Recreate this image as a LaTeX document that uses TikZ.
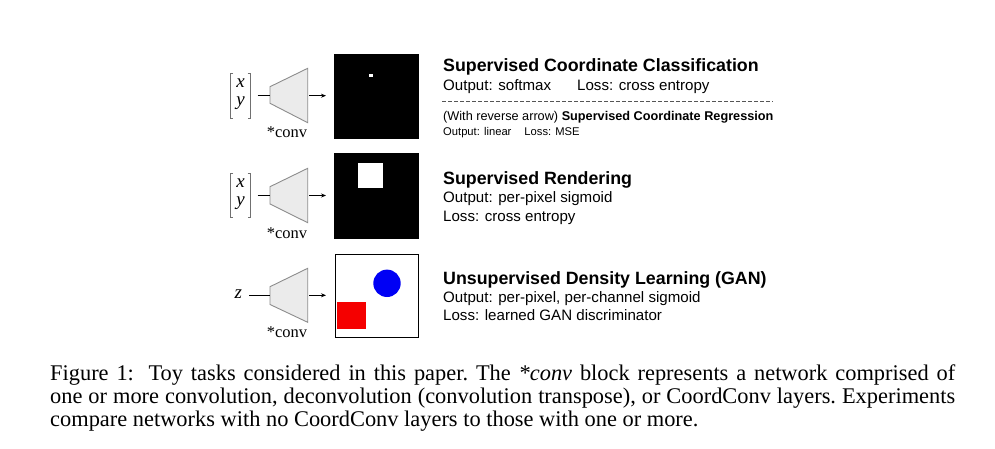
\documentclass[tikz,border=0pt]{standalone}
\usepackage{fontspec}
\setmainfont{Liberation Serif}
\newfontfamily\arial{Liberation Sans}
\usetikzlibrary{arrows.meta}
\definecolor{trapfill}{HTML}{EBEBEB}
\definecolor{trapdraw}{HTML}{8C8C8C}
\definecolor{brkgray}{HTML}{707070}
\definecolor{dashgray}{HTML}{555555}
\definecolor{dotblue}{HTML}{0000F5}
\definecolor{boxred}{HTML}{F50000}
\tikzset{
  trap/.style={fill=trapfill, draw=trapdraw, line width=0.9pt, line join=miter},
  conn/.style={line width=0.8pt},
  arr/.style={conn, -{Stealth[length=5pt,width=4pt]}},
  brk/.style={draw=brkgray, line width=0.8pt},
  var/.style={inner sep=0pt, font=\itshape\fontsize{19}{20}\selectfont},
  vec/.style={inner sep=0pt, align=center, font=\itshape\fontsize{19}{18}\selectfont},
  convlbl/.style={inner sep=0pt, font=\fontsize{16.5}{18}\selectfont},
  lbl/.style={anchor=base west, inner sep=0pt, font=\arial\fontsize{15.1}{16}\selectfont},
  ttl/.style={anchor=base west, inner sep=0pt, font=\arial\bfseries\fontsize{17.8}{20}\selectfont},
  small/.style={anchor=base west, inner sep=0pt, font=\arial\fontsize{12.7}{14}\selectfont},
  tiny/.style={anchor=base west, inner sep=0pt, font=\arial\fontsize{11.2}{13}\selectfont},
  captxt/.style={anchor=base west, inner sep=0pt, font=\frenchspacing\fontsize{22.4}{23.3}\selectfont},
  img/.style={inner sep=0pt, minimum size=85pt, anchor=north west},
}
\begin{document}
\begin{tikzpicture}[x=1pt,y=-1pt]
\useasboundingbox[fill=white] (0,0) rectangle (995,449);

% ---------- Row 1 ----------
\node[vec] (v1) at (240.5,94.5) {x\\y};
\draw[brk] (233,73) -- (230,73) -- (230,118) -- (233,118);
\draw[brk] (247.7,73) -- (250.7,73) -- (250.7,118) -- (247.7,118);
\coordinate (s1) at (257.7,95.7);
\coordinate (tl1) at (270,95.7);
\draw[trap] (270,86.7) -- (307.7,68.3) -- (307.7,122.7) -- (270,103.3) -- cycle;
\coordinate (tr1) at (309,95.7);
\coordinate (a1) at (326,95.7);
\draw[conn] (s1) -- (tl1);
\draw[arr] (tr1) -- (a1);
\node[convlbl] (c1) at (287,131.7) {*conv};
\node[img, fill=black] (img1) at (334,54) {};
\node[fill=white, inner sep=0pt, minimum size=3.8pt] (dot1) at (371.2,75.5) {};

\node[ttl] (t1) at (443,71.5) {Supervised Coordinate Classification};
\node[lbl] (l1) at (443,90.5) {Output: softmax\hspace{26pt}Loss: cross entropy};
\coordinate (d1) at (442,101.7);
\coordinate (d2) at (773,101.7);
\draw[draw=dashgray, line width=0.7pt, dash pattern=on 4pt off 2pt] (d1) -- (d2);
\node[small] (l2) at (443,121) {(With reverse arrow) \textbf{Supervised Coordinate Regression}};
\node[tiny] (l3) at (443,135.5) {Output: linear\hspace{13pt}Loss: MSE};

% ---------- Row 2 ----------
\node[vec] (v2) at (240.5,194.3) {x\\y};
\draw[brk] (233,173.5) -- (230,173.5) -- (230,217) -- (233,217);
\draw[brk] (247.7,173.5) -- (250.7,173.5) -- (250.7,217) -- (247.7,217);
\coordinate (s2) at (257.7,195.5);
\coordinate (tl2) at (270,195.5);
\draw[trap] (270,186.7) -- (307.7,168.3) -- (307.7,222.7) -- (270,204) -- cycle;
\coordinate (tr2) at (309,195.5);
\coordinate (a2) at (326,195.5);
\draw[conn] (s2) -- (tl2);
\draw[arr] (tr2) -- (a2);
\node[convlbl] (c2) at (287,232.7) {*conv};
\node[img, fill=black] (img2) at (334,153.3) {};
\node[fill=white, inner sep=0pt, minimum width=25.3pt, minimum height=24.4pt] (sq2) at (370.3,175.5) {};

\node[ttl] (t2) at (443,184.5) {Supervised Rendering};
\node[lbl] (l4) at (443,203) {Output: per-pixel sigmoid};
\node[lbl] (l5) at (443,221) {Loss: cross entropy};

% ---------- Row 3 ----------
\node[var] (z3) at (238.3,294) {z};
\coordinate (s3) at (249,295.3);
\coordinate (tl3) at (270,295.3);
\draw[trap] (270,286.7) -- (307.7,268.3) -- (307.7,322.3) -- (270,304.5) -- cycle;
\coordinate (tr3) at (309,295.3);
\coordinate (a3) at (326,295.3);
\draw[conn] (s3) -- (tl3);
\draw[arr] (tr3) -- (a3);
\node[convlbl] (c3) at (287,332.3) {*conv};
\node[img, draw=black, line width=1.2pt, fill=white, minimum size=83.2pt] (img3) at (334.9,253.9) {};
\node[circle, fill=dotblue, inner sep=0pt, minimum size=27.4pt] (circ3) at (387,283.3) {};
\node[fill=boxred, inner sep=0pt, minimum width=29.3pt, minimum height=27.6pt] (sq3) at (351.3,315.5) {};

\node[ttl] (t3) at (443,284) {Unsupervised Density Learning (GAN)};
\node[lbl] (l6) at (443,302.5) {Output: per-pixel, per-channel sigmoid};
\node[lbl] (l7) at (443,320.5) {Loss: learned GAN discriminator};

% ---------- Caption ----------
\node[captxt] (cap1) at (50,380) {\makebox[905pt][s]{Figure 1:\hspace{0.3em} Toy tasks considered in this paper. The \textit{*conv} block represents a network comprised of}};
\node[captxt] (cap2) at (50,403.3) {\makebox[905pt][s]{one or more convolution, deconvolution (convolution transpose), or CoordConv layers. Experiments}};
\node[captxt] (cap3) at (50,426.7) {compare networks with no CoordConv layers to those with one or more.};
\end{tikzpicture}
\end{document}
